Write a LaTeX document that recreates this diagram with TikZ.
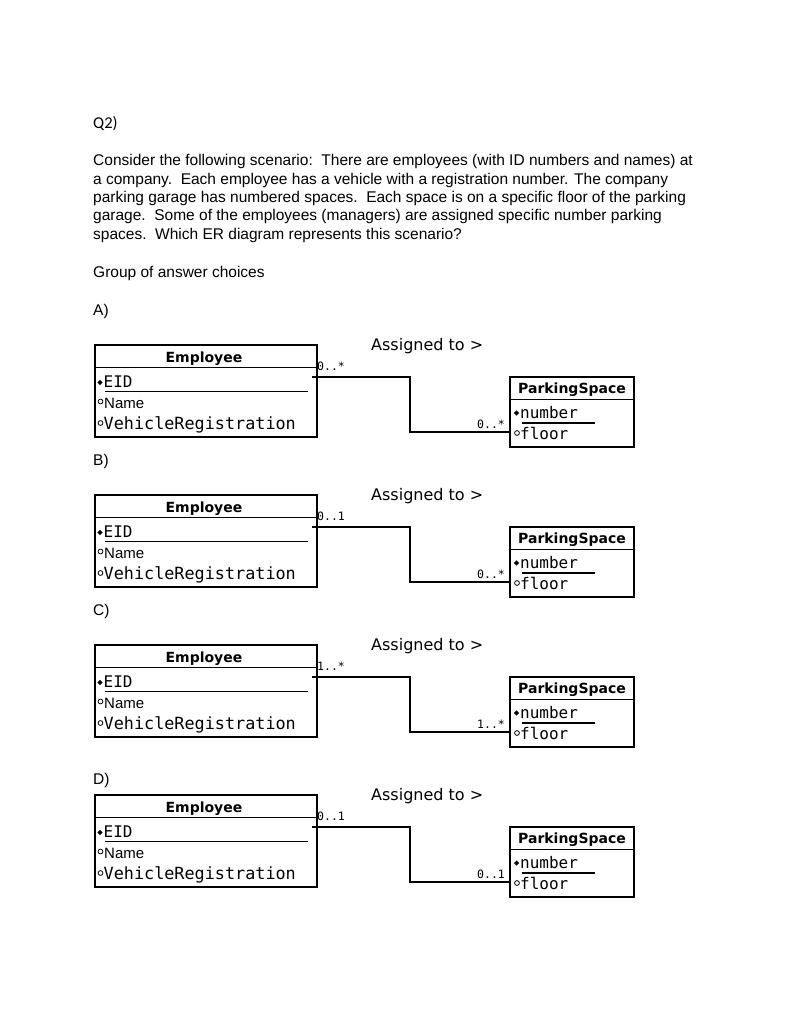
\documentclass[tikz,border=0pt]{standalone}
\usepackage{fontspec}
\setmainfont{Liberation Sans}
\newfontfamily\qfont{Carlito}
\newfontfamily\dsans{DejaVu Sans}
\newfontfamily\dmono{DejaVu Sans Mono}
\usetikzlibrary{calc,shapes.geometric}
\tikzset{
  txt/.style={anchor=base west,inner sep=0pt,font=\fontsize{15.5}{18}\selectfont},
  boxframe/.style={draw,line width=2.4pt,inner sep=0pt,anchor=north west},
  hdr/.style={anchor=base,inner sep=0pt,font=\dsans\bfseries\fontsize{14}{16}\selectfont},
  attr/.style={anchor=base west,inner sep=0pt,font=\dmono\fontsize{16}{18}\selectfont},
  attrs/.style={anchor=base west,inner sep=0pt,font=\fontsize{15}{16}\selectfont},
  mult/.style={anchor=base west,inner sep=0pt,font=\dmono\fontsize{11.5}{13}\selectfont},
  rel/.style={anchor=base west,inner sep=0pt,font=\dsans\fontsize{16}{18}\selectfont},
  sep/.style={line width=1.8pt},
  uline/.style={line width=1.1pt},
  conn/.style={line width=2.4pt},
  keymark/.style={fill,diamond,minimum size=0pt,inner sep=1.3pt},
  optmark/.style={draw,circle,line width=0.8pt,minimum size=0pt,inner sep=1.7pt},
}
\begin{document}
\begin{tikzpicture}[x=1pt,y=-1pt]
\useasboundingbox[fill=white] (0,0) rectangle (791,1024);
\node[txt,font=\qfont\fontsize{16.5}{18}\selectfont] (q) at (93,129) {Q2)};
\node[txt] (l1) at (93,166) {Consider the following scenario:\ \ There are employees (with ID numbers and names) at};
\node[txt] (l2) at (93,184.5) {a company.\ \ Each employee has a vehicle with a registration number. The company};
\node[txt] (l3) at (93,203) {parking garage has numbered spaces.\ \ Each space is on a specific floor of the parking};
\node[txt] (l4) at (93,221) {garage.\ \ Some of the employees (managers) are assigned specific number parking};
\node[txt] (l5) at (93,239.5) {spaces.\ \ Which ER diagram represents this scenario?};
\node[txt] (g) at (93,277) {Group of answer choices};
\node[txt] (la) at (93,315) {A)};
\node[txt] (lb) at (93,465) {B)};
\node[txt] (lc) at (93,615) {C)};
\node[txt] (ld) at (93,784) {D)};
\foreach \n/\o/\ma/\mb in {A/0/0..*/0..*, B/150/0..1/0..*, C/300/1..*/1..*, D/450/0..1/0..1}{
  \begin{scope}[yshift=-\o pt]
  % Employee
  \node[boxframe,minimum width=222pt,minimum height=92pt] (emp\n) at (94,344) {};
  \node[hdr] (empt\n) at (204,362) {Employee};
  \draw[sep] (94,367.5) -- (316,367.5);
  \node[keymark] (ek\n) at (100,382.5) {};
  \node[attr] (eid\n) at (103.5,387.5) {EID};
  \draw[uline] (105,391.5) -- (308,391.5);
  \node[optmark] (en\n) at (100.5,401.5) {};
  \node[attrs] (ename\n) at (104,408.5) {Name};
  \node[optmark] (ev\n) at (100.5,423) {};
  \node[attr,font=\dmono\fontsize{16.8}{18}\selectfont] (eveh\n) at (103.5,429) {VehicleRegistration};
  % ParkingSpace
  \node[boxframe,minimum width=124pt,minimum height=70pt] (ps\n) at (509,375.5) {};
  \node[hdr] (pst\n) at (572,393.5) {ParkingSpace};
  \draw[sep] (509,399.5) -- (633,399.5);
  \node[keymark] (pk\n) at (516.5,413) {};
  \node[attr] (pnum\n) at (520,418.5) {number};
  \draw[uline] (522,423) -- (595,423);
  \node[optmark] (pf\n) at (517,433) {};
  \node[attr] (pfl\n) at (520,439) {floor};
  % connector
  \coordinate (s\n) at ($(emp\n.north east)+(-6,33)$);
  \coordinate (m\n) at (410,432);
  \draw[conn] (s\n) -| (m\n) -- (m\n -| ps\n.west);
  \node[mult] (ma\n) at (317,370) {\ma};
  \node[mult] (mb\n) at (477,428) {\mb};
  \node[rel] (r\n) at (371,350) {Assigned to >};
  \end{scope}
}
\end{tikzpicture}
\end{document}
